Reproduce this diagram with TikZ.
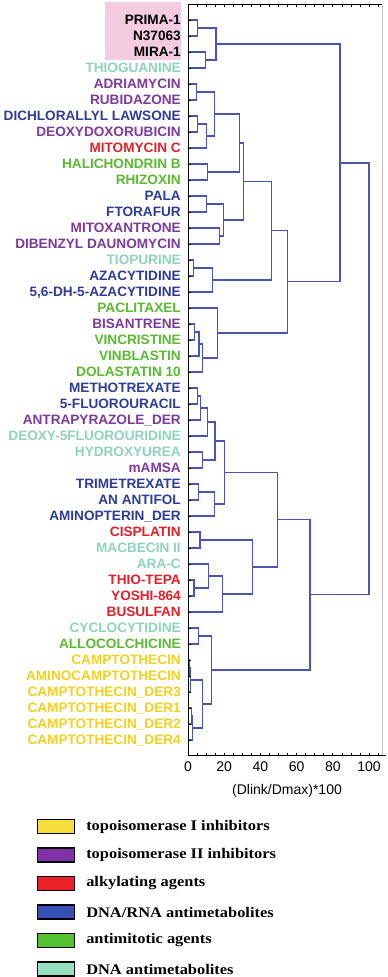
\documentclass[tikz,border=0pt]{standalone}
\usepackage{fontspec}
\newfontfamily\lsans{Liberation Sans}
\newfontfamily\lserif{Liberation Serif}[FakeStretch=1.12]
\usepackage{tikz}
\usetikzlibrary{positioning,calc}
\usepackage{xcolor}

% class colours (labels)
\definecolor{topoI}{HTML}{F2D21E}
\definecolor{topoII}{HTML}{7B3A9C}
\definecolor{alkyl}{HTML}{E3202A}
\definecolor{dnarna}{HTML}{2E3C98}
\definecolor{antimit}{HTML}{5AB930}
\definecolor{dnaanti}{HTML}{8ED3BD}
% class colours (legend swatches)
\definecolor{swI}{HTML}{F8DE3C}
\definecolor{swII}{HTML}{8232A8}
\definecolor{swAlk}{HTML}{E82226}
\definecolor{swRna}{HTML}{3452B0}
\definecolor{swMit}{HTML}{52C232}
\definecolor{swDna}{HTML}{98DEC0}
\definecolor{linkblue}{HTML}{4A55AE}
\definecolor{hilite}{HTML}{F3CCDF}

\begin{document}
\begin{tikzpicture}[
  x=0.75pt, y=-0.75pt,
  leaf/.style={anchor=east, inner sep=0pt, text height=7.3pt, text depth=0pt,
    font=\lsans\bfseries\fontsize{10.2}{12}\selectfont},
  link/.style={draw=linkblue, line width=0.85pt},
  axis/.style={draw=black, line width=0.75pt},
  tickmark/.style={draw=black, line width=0.5pt},
  ticklabel/.style={font=\lsans\fontsize{10.5}{12}\selectfont, inner sep=0pt},
  swatch/.style={draw=black, line width=1pt, minimum width=28pt, minimum height=10.5pt, inner sep=0pt},
  legtext/.style={font=\lserif\bfseries\fontsize{11}{13}\selectfont, inner sep=0pt}
]
  \useasboundingbox (0,0) rectangle (387,977);

  % highlighted group behind the first three labels
  \fill[hilite] (105,2) rectangle (181,60);

  % leaves — 16px spacing
  \foreach \lab/\col [count=\i] in {PRIMA-1/black, N37063/black, MIRA-1/black,
      THIOGUANINE/dnaanti, ADRIAMYCIN/topoII, RUBIDAZONE/topoII,
      DICHLORALLYL LAWSONE/dnarna, DEOXYDOXORUBICIN/topoII, MITOMYCIN C/alkyl,
      HALICHONDRIN B/antimit, RHIZOXIN/antimit, PALA/dnarna, FTORAFUR/dnarna,
      MITOXANTRONE/topoII, DIBENZYL DAUNOMYCIN/topoII, TIOPURINE/dnaanti,
      AZACYTIDINE/dnarna, {5,6-DH-5-AZACYTIDINE}/dnarna, PACLITAXEL/antimit,
      BISANTRENE/topoII, VINCRISTINE/antimit, VINBLASTIN/antimit,
      DOLASTATIN 10/antimit, METHOTREXATE/dnarna, 5-FLUOROURACIL/dnarna,
      ANTRAPYRAZOLE\_DER/topoII, DEOXY-5FLUOROURIDINE/dnaanti,
      HYDROXYUREA/dnaanti, mAMSA/topoII, TRIMETREXATE/dnarna,
      AN ANTIFOL/dnarna, AMINOPTERIN\_DER/dnarna, CISPLATIN/alkyl,
      MACBECIN II/dnaanti, ARA-C/dnaanti, THIO-TEPA/alkyl, YOSHI-864/alkyl,
      BUSULFAN/alkyl, CYCLOCYTIDINE/dnaanti, ALLOCOLCHICINE/antimit,
      CAMPTOTHECIN/topoI, AMINOCAMPTOTHECIN/topoI, CAMPTOTHECIN\_DER3/topoI,
      CAMPTOTHECIN\_DER1/topoI, CAMPTOTHECIN\_DER2/topoI,
      CAMPTOTHECIN\_DER4/topoI} {
    \node[leaf, text=\col] (n\i) at (181,4+16*\i) {\lab};
    \coordinate (p\i) at (188,4+16*\i);
  }

  % merges, x in (Dlink/Dmax)*100
  \begin{scope}[shift={(188,0)}, x=1.3575pt]
    \foreach \m/\a/\b/\d in {c1/p1/p2/5.1, c2/p3/p4/9.6, c3/c1/c2/15.5,
        c4/p5/p6/4.6, c5/p7/p8/5.4, c6/c5/p9/10.1, c7/c4/c6/14.4,
        c8/p10/p11/10.7, c9/c7/c8/28.3, c10/p12/p13/10.3, c11/p14/p15/17.3,
        c12/c10/c11/19.5, c13/c9/c12/30.9, c14/p16/p17/2.9, c15/c14/p18/13.4,
        c16/c13/c15/45.9, c17/p20/p21/3.7, c18/c17/p22/6.1, c19/c18/p23/7.9,
        c20/p19/c19/16.2, c21/c16/c20/55.2, c22/c3/c21/84.0,
        c23/p24/p25/5.1, c24/c23/p26/7.0, c25/c24/p27/10.7, c26/p28/p29/7.9,
        c27/c25/c26/14.9, c28/p30/p31/5.7, c29/c28/p32/14.4, c30/c27/c29/20.1,
        c31/p33/p34/6.6, c32/p36/p37/3.3, c33/p35/c32/11.2, c34/c33/p38/19.0,
        c35/c31/c34/35.5, c36/c30/c35/49.3, c37/p39/p40/5.7,
        c38/p41/p42/0.8, c39/c38/p43/1.4, c40/p44/p45/2.0, c41/c40/p46/2.6,
        c42/c39/c41/8.1, c43/c37/c42/13.0, c44/c36/c43/67.4,
        c45/c22/c44/100} {
      \coordinate (\m mid) at ($(\a)!.5!(\b)$);
      \coordinate (\m) at (\d,0 |- \m mid);
      \draw[link] (\a) -| (\m) |- (\b);
    }
  \end{scope}

  % frame and axes
  \draw[axis] (188,755) -- (188,5) -- (382,5);
  \draw[axis] (188,755) -- (386,755);
  \draw[draw=black!25, line width=0.75pt] (382,5) -- (382,755);
  \foreach \i in {1,...,46} {
    \draw[tickmark] (p\i) -- ++(3,0);
  }
  \foreach \v in {0,5,...,105} {
    \draw[tickmark] ({188+1.81*\v},5) -- ++(0,2.5);
    \draw[tickmark] ({188+1.81*\v},755) -- ++(0,-2.5);
  }
  \foreach \v in {0,20,...,100} {
    \node[ticklabel] (t\v) at ({188+1.81*\v},767) {\v};
  }
  \node[ticklabel] (xlab) at (287,791) {(Dlink/Dmax)*100};

  % legend
  \foreach \txt/\col [count=\k] in {topoisomerase I inhibitors/swI,
      topoisomerase II inhibitors/swII, alkylating agents/swAlk,
      {DNA/RNA antimetabolites}/swRna, antimitotic agents/swMit,
      DNA antimetabolites/swDna} {
    \node[swatch, fill=\col] (s\k) at (56,798+28.5*\k) {};
    \node[legtext, right=8pt of s\k] (g\k) {\txt};
  }
\end{tikzpicture}
\end{document}
